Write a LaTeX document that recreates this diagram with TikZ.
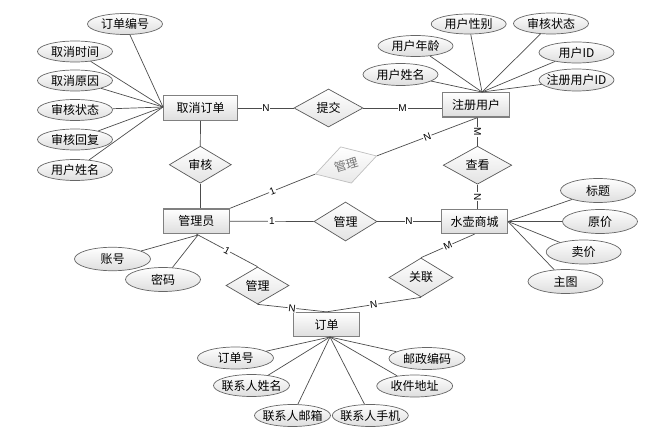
\documentclass[tikz,border=0pt]{standalone}
\usepackage{fontspec}
\setmainfont{Noto Sans CJK SC}
\newfontfamily\labfont{Liberation Sans}
\usetikzlibrary{shapes.geometric}
\newcommand\zw[1]{\makebox[0pt]{#1}}
\begin{document}
\begin{tikzpicture}[x=1pt,y=-1pt,
  font=\fontsize{12}{12}\selectfont,
  entity/.style={rectangle, draw=black!50, line width=1.3pt, top color=white, bottom color=black!13,
    minimum width=66pt, minimum height=24pt, inner sep=0pt},
  attr/.style={ellipse, draw=black!60, line width=0.7pt, top color=white, bottom color=black!13,
    minimum width=75pt, minimum height=20pt, inner sep=0pt},
  rel/.style={diamond, draw=black!65, line width=0.7pt, top color=white, bottom color=black!11,
    minimum width=63pt, minimum height=37pt, inner sep=0pt},
  greyrel/.style={rel, draw=black!25, bottom color=black!9, text=black!55},
  conn/.style={draw=black!70, line width=0.7pt},
  card/.style={font=\labfont\fontsize{10}{10}\selectfont, fill=white, inner sep=0.8pt},
]
\useasboundingbox (0,0) rectangle (671,438);

% entities
\node[entity, minimum width=74.5pt, minimum height=24.5pt] (qx) at (200.5,108) {取消订单};
\node[entity, minimum width=67pt, minimum height=24.5pt] (zc) at (476,104.7) {注册用户};
\node[entity, minimum width=66pt, minimum height=24.5pt] (gly) at (196.4,221.2) {管理员};
\node[entity, minimum width=66.5pt, minimum height=24pt] (sc) at (474.5,221.5) {水壶商城};
\node[entity, minimum width=66pt, minimum height=24pt] (dd) at (326.5,324.5) {订单};

% relationships
\node[rel, minimum width=69pt, minimum height=38pt] (tj) at (328.5,108) {提交};
\node[rel, minimum width=62pt, minimum height=37pt] (sh) at (200.3,164.7) {审核};
\node[greyrel, minimum width=64pt, minimum height=38pt, rotate=16.5] (gl1) at (346,165) {管理};
\node[rel, minimum width=68.5pt, minimum height=38pt] (ck) at (477.5,165.2) {查看};
\node[rel, minimum width=63pt, minimum height=39pt] (gl2) at (345.5,221.5) {管理};
\node[rel, minimum width=63pt, minimum height=37pt] (gl3) at (257.5,285.5) {管理};
\node[rel, minimum width=64pt, minimum height=39pt] (gll) at (421,277.5) {关联};

% attribute convergence points
\coordinate (cq) at (163,107);
\coordinate (cz) at (482,92);
\coordinate (cg) at (198,235);
\coordinate (cs) at (508,221.5);
\coordinate (cd) at (330,337);

% attributes of 取消订单
\node[attr, minimum height=21pt] (q1) at (125,24) {\zw{订单编号}};
\node[attr, minimum height=21pt] (q2) at (75,51.5) {\zw{取消时间}};
\node[attr, minimum height=21pt] (q3) at (75,80.5) {\zw{取消原因}};
\node[attr, minimum height=21pt] (q4) at (75,110) {\zw{审核状态}};
\node[attr, minimum height=21pt] (q5) at (75,139.5) {\zw{审核回复}};
\node[attr, minimum height=21pt] (q6) at (75,170) {\zw{用户姓名}};
\foreach \n in {q1,q2,q3,q4,q5,q6} \draw[conn] (\n) -- (cq);

% attributes of 注册用户
\node[attr, minimum height=20pt] (z1) at (468.7,24) {\zw{用户性别}};
\node[attr, minimum height=21pt] (z2) at (551,23.5) {\zw{审核状态}};
\node[attr, minimum height=21pt] (z3) at (415.5,46) {\zw{用户年龄}};
\node[attr, minimum height=21pt] (z4) at (576.5,52.5) {\zw{用户ID}};
\node[attr, minimum height=22pt] (z5) at (400.5,74.5) {\zw{用户姓名}};
\node[attr, minimum height=22pt] (z6) at (576.5,80) {\zw{注册用户ID}};
\foreach \n in {z1,z2,z3,z4,z5,z6} \draw[conn] (\n) -- (cz);

% attributes of 管理员
\node[attr, minimum width=76pt, minimum height=23.5pt] (g1) at (112.5,259) {\zw{账号}};
\node[attr, minimum width=75pt, minimum height=24pt] (g2) at (163,279.5) {\zw{密码}};
\foreach \n in {g1,g2} \draw[conn] (\n) -- (cg);

% attributes of 水壶商城
\node[attr, minimum height=24pt] (s1) at (598,190.5) {\zw{标题}};
\node[attr, minimum height=24pt] (s2) at (600,221.5) {\zw{原价}};
\node[attr, minimum height=24pt] (s3) at (583.7,252) {\zw{卖价}};
\node[attr, minimum height=24pt] (s4) at (565.5,281.5) {\zw{主图}};
\foreach \n in {s1,s2,s3,s4} \draw[conn] (\n) -- (cs);

% attributes of 订单
\node[attr, minimum width=76pt, minimum height=22pt] (d1) at (235.5,358) {\zw{订单号}};
\node[attr, minimum width=76pt, minimum height=22pt] (d2) at (251.5,385.5) {\zw{联系人姓名}};
\node[attr, minimum width=76pt, minimum height=22pt] (d3) at (292.5,415.5) {\zw{联系人邮箱}};
\node[attr, minimum width=76pt, minimum height=22pt] (d4) at (370.3,415.5) {\zw{联系人手机}};
\node[attr, minimum width=76pt, minimum height=22pt] (d5) at (414.7,386) {\zw{收件地址}};
\node[attr, minimum width=76pt, minimum height=22pt] (d6) at (427,358.5) {\zw{邮政编码}};
\foreach \n in {d1,d2,d3,d4,d5,d6} \draw[conn] (\n) -- (cd);

% relationship connectors
\draw[conn] (qx.east) -- node[card] {N} (tj.west);
\draw[conn] (tj.east) -- node[card] {M} (tj.east -| zc.west);
\draw[conn] (qx.south) -- (sh.north);
\draw[conn] (sh.south) -- (sh.south |- gly.north);
\draw[conn] (ck.north |- zc.south) -- node[card, rotate=-90] {M} (ck.north);
\draw[conn] (ck.south) -- node[card, rotate=-90] {N} (ck.south |- sc.north);
\draw[conn] (gly.east) -- node[card] {1} (gl2.west);
\draw[conn] (gl2.east) -- node[card] {N} (sc.west);
\draw[conn] (gly.north east) -- node[card, sloped] {1} (gl1.west);
\draw[conn] (gl1.east) -- node[card, sloped] {N} (ck.north |- zc.south);
\draw[conn] (gly.south) -- node[card, sloped] {1} (gl3.north);
\draw[conn] (gl3.south) -- node[card, sloped] {N} (dd.north);
\draw[conn] (gll.north) -- node[card, sloped] {M} (sc.south);
\draw[conn] (dd.north) -- node[card, sloped] {N} (gll.south);
\end{tikzpicture}
\end{document}
